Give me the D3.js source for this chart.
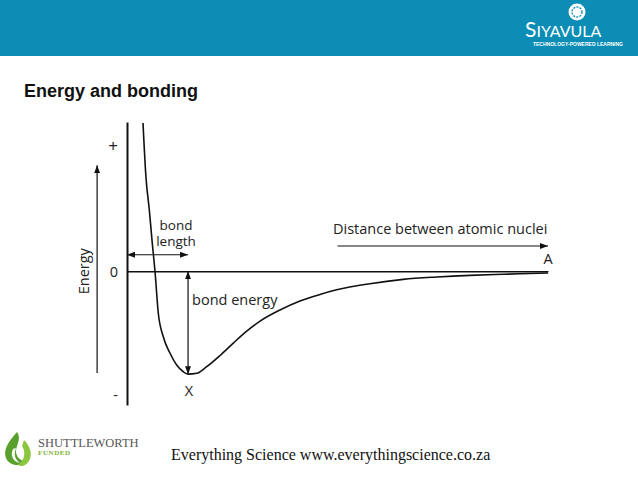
<!DOCTYPE html>
<html>
<head>
<meta charset="utf-8">
<script src="https://cdn.jsdelivr.net/npm/d3@7"></script>
<style>
  body { margin: 0; background: #fff; }
  svg { display: block; }
  .lbl { font-family: "Open Sans", sans-serif; font-size: 14.5px; fill: #222; }
  .axis text { font-family: "Open Sans", sans-serif; font-size: 14.5px; fill: #222; }
</style>
</head>
<body>
<div class="wrapper"></div>
<script>
// potential energy curve, distance (0-100) vs energy (min -100 at the bond)
const distance = [3.8, 4.5, 5.3, 6.0, 6.65, 7.43, 8.62, 10.2, 11.8, 13.37, 14.56, 16.56, 18.93, 22.1, 25.25, 28.43, 31.6, 36.34, 41.09, 45.84, 49.8, 57.7, 65.6, 73.6, 81.5, 89.4, 100]
const energy = [144, 91.6, 59.5, 27.4, 0, -40.6, -63.7, -79.5, -91.2, -97.7, -100, -99.2, -92.8, -81.9, -69.8, -58.2, -48.5, -37.7, -29.0, -22.6, -18.1, -12.1, -7.9, -5.6, -4.0, -3.0, -1.7]

const yTicks = [122, 0, -120]
const yTickLabels = ['+', '0', '-']

const bondLength = 14.5   // distance at minimum
const bondEnergy = -100   // energy at minimum

const width = 638, height = 478

let x = d3.scaleLinear().domain([0, 100]).range([127, 548])
let y = d3.scaleLinear().domain([-130, 145]).range([405, 122])

let svg = d3.select('.wrapper').append('svg')
  .attr('width', width)
  .attr('height', height)

let defs = svg.append('defs')
defs.append('marker')
  .attr('id', 'arr')
  .attr('markerUnits', 'userSpaceOnUse')
  .attr('markerWidth', 9).attr('markerHeight', 7)
  .attr('refX', 8).attr('refY', 3)
  .attr('orient', 'auto-start-reverse')
  .append('path')
  .attr('d', 'M0,0 L8,3 L0,6 Z')
  .attr('fill', '#111')

// header bar
svg.append('rect').attr('x', 0).attr('y', 0).attr('width', width).attr('height', 56).attr('fill', '#0b8db5')

// siyavula logo
let logo = svg.append('g')
logo.append('circle').attr('cx', 577).attr('cy', 12).attr('r', 8.5).attr('fill', '#fff')
logo.append('circle').attr('cx', 577).attr('cy', 12).attr('r', 5).attr('fill', 'none')
  .attr('stroke', '#0b8db5').attr('stroke-width', 1.3).attr('stroke-dasharray', '2 1.2')
let st = logo.append('text').attr('x', 525).attr('y', 37)
  .attr('font-family', 'Lato, sans-serif').attr('fill', '#fff').attr('font-weight', 400)
st.append('tspan').attr('font-size', 21).text('S')
st.append('tspan').attr('font-size', 16).text('IYAVULA')
logo.append('text').attr('x', 578).attr('y', 46).attr('text-anchor', 'middle')
  .attr('font-family', 'Liberation Sans, sans-serif').attr('font-size', 5).attr('font-weight', 'bold')
  .attr('fill', '#fff').text('TECHNOLOGY-POWERED LEARNING')

// title
svg.append('text').attr('x', 24).attr('y', 97)
  .attr('font-family', 'Liberation Sans, Arial, sans-serif')
  .attr('font-size', 18).attr('font-weight', 'bold').attr('fill', '#111')
  .text('Energy and bonding')

// axes
let yaxis = svg.append('g')
  .attr('class', 'axis')
  .attr('transform', 'translate(' + x(0) + ',0)')
  .call(d3.axisLeft(y)
    .tickValues(yTicks)
    .tickFormat((d, i) => yTickLabels[i])
    .tickSize(0)
    .tickPadding(9))
yaxis.select('.domain').attr('stroke', '#111').attr('stroke-width', 2)
yaxis.selectAll('text').attr('dy', '0.35em')
  .style('font-size', (d, i) => yTickLabels[i] == '+' ? '17px' : null)

let xaxis = svg.append('g')
  .attr('class', 'axis')
  .attr('transform', 'translate(0,' + y(0) + ')')
  .call(d3.axisBottom(x).ticks(0).tickSizeOuter(0))
xaxis.select('.domain').attr('stroke', '#111').attr('stroke-width', 1.6)

// curve
let line = d3.line()
  .x((d, i) => x(distance[i]))
  .y(d => y(d))
  .curve(d3.curveMonotoneX)

svg.append('path')
  .datum(energy)
  .attr('d', line)
  .attr('fill', 'none')
  .attr('stroke', '#111')
  .attr('stroke-width', 1.6)

// arrows
function arrow(x1, y1, x2, y2, both) {
  let a = svg.append('line')
    .attr('x1', x1).attr('y1', y1).attr('x2', x2).attr('y2', y2)
    .attr('stroke', '#111').attr('stroke-width', 1.2)
    .attr('marker-end', 'url(#arr)')
  if (both) a.attr('marker-start', 'url(#arr)')
}

// energy arrow
arrow(x(-7.1), y(-99), x(-7.1), y(103), false)
// bond length
arrow(x(0), y(16), x(bondLength), y(16), true)
// bond energy
arrow(x(bondLength), y(0), x(bondLength), y(bondEnergy), true)
// distance arrow
arrow(x(50), y(24.5), x(100), y(24.5), false)

// labels
svg.append('text').attr('class', 'lbl')
  .attr('transform', 'translate(' + (x(-7.1) - 8) + ',' + y(0) + ') rotate(-90)')
  .attr('text-anchor', 'middle')
  .text('Energy')

let bl = svg.append('text').attr('class', 'lbl').attr('y', 230)
  .attr('text-anchor', 'middle').style('font-size', '13.5px')
bl.append('tspan').attr('x', x(bondLength) - 12).text('bond')
bl.append('tspan').attr('x', x(bondLength) - 12).attr('dy', 16).text('length')

svg.append('text').attr('class', 'lbl').attr('x', x(bondLength) + 4).attr('y', 305)
  .text('bond energy')

svg.append('text').attr('class', 'lbl').attr('x', x(bondLength) + 1).attr('y', 396)
  .attr('text-anchor', 'middle').text('X')

svg.append('text').attr('class', 'lbl').attr('x', 333).attr('y', 234)
  .text('Distance between atomic nuclei')

svg.append('text').attr('class', 'lbl').attr('x', x(100)).attr('y', 264)
  .attr('text-anchor', 'middle').text('A')

// footer logo
let fl = svg.append('g')
fl.append('path')
  .attr('d', 'M17,432 C8,442 3,450 6,458 C9,466 20,467 26,462 C18,460 14,454 17,446 C19,441 20,436 17,432 Z')
  .attr('fill', '#5aa02c')
fl.append('path')
  .attr('d', 'M24,440 C30,446 33,454 29,461 C26,466 21,467 18,465 C25,460 26,452 22,446 Z')
  .attr('fill', '#8cc63f')
fl.append('path')
  .attr('d', 'M13,449 C10,455 13,462 20,463 C14,458 14,454 16,448 Z')
  .attr('fill', '#fff')

svg.append('text').attr('x', 38).attr('y', 447)
  .attr('font-family', 'Liberation Serif, serif').attr('font-size', 12.5)
  .attr('fill', '#555').text('SHUTTLEWORTH')
svg.append('text').attr('x', 38).attr('y', 455)
  .attr('font-family', 'Liberation Serif, serif').attr('font-size', 7).attr('font-weight', 'bold')
  .attr('fill', '#7ab536').attr('letter-spacing', 0.6).text('FUNDED')

svg.append('text').attr('x', 171).attr('y', 460)
  .attr('font-family', 'Liberation Serif, Times New Roman, serif').attr('font-size', 16)
  .attr('fill', '#111').text('Everything Science www.everythingscience.co.za')
</script>
</body>
</html>
